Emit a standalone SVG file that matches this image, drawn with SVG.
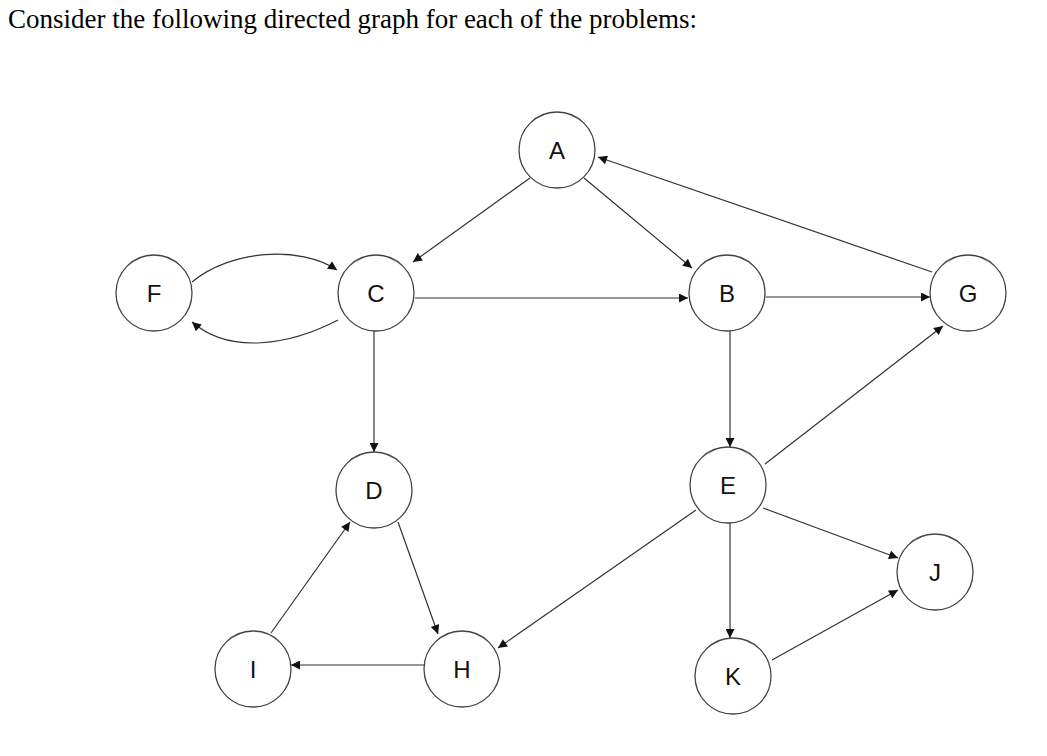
<svg xmlns="http://www.w3.org/2000/svg" width="1047" height="756" viewBox="0 0 1047 756">
<style>
.n circle{fill:#fff;stroke:#444;stroke-width:1.3}
.n text{font-family:"Liberation Sans",Arial,sans-serif;font-size:24px;text-anchor:middle;fill:#111}
#edges path{fill:none;stroke:#333;stroke-width:1.2;marker-end:url(#ah)}
.t{font-family:"Liberation Serif","Times New Roman",serif;font-size:27px;fill:#000}
</style>
<defs><marker id="ah" viewBox="0 0 10 10" refX="10" refY="5" markerWidth="12" markerHeight="9" markerUnits="userSpaceOnUse" orient="auto"><path d="M0,0L10,5L0,10z" fill="#111"/></marker></defs>
<rect width="1047" height="756" fill="#fff"/>
<text class="t" x="8" y="28">Consider the following directed graph for each of the problems:</text>
<g id="edges">
<path d="M530,178L413,262"/>
<path d="M584,178L692,268"/>
<path d="M932,272L598,157"/>
<path d="M415,298L688,298"/>
<path d="M766,297L930,297"/>
<path d="M192,282C230,250 300,245 337,270"/>
<path d="M338,320C290,345 230,355 192,322"/>
<path d="M374,331L374,452"/>
<path d="M730,331L730,447"/>
<path d="M765,464L943,326"/>
<path d="M763,508L898,558"/>
<path d="M696,510L498,648"/>
<path d="M730,523L730,638"/>
<path d="M772,660L898,590"/>
<path d="M398,522L438,634"/>
<path d="M271,633L350,522"/>
<path d="M424,665L291,665"/>
</g>
<g id="A" class="n"><circle cx="557" cy="150" r="38"/><text x="557" y="159">A</text></g>
<g id="F" class="n"><circle cx="154" cy="293" r="38"/><text x="154" y="302">F</text></g>
<g id="C" class="n"><circle cx="376" cy="293" r="38"/><text x="376" y="302">C</text></g>
<g id="B" class="n"><circle cx="727" cy="293" r="38"/><text x="727" y="302">B</text></g>
<g id="G" class="n"><circle cx="968" cy="293" r="38"/><text x="968" y="302">G</text></g>
<g id="D" class="n"><circle cx="374" cy="490" r="38"/><text x="374" y="499">D</text></g>
<g id="E" class="n"><circle cx="728" cy="485" r="38"/><text x="728" y="494">E</text></g>
<g id="J" class="n"><circle cx="935" cy="572" r="38"/><text x="935" y="581">J</text></g>
<g id="I" class="n"><circle cx="253" cy="669" r="38"/><text x="253" y="678">I</text></g>
<g id="H" class="n"><circle cx="462" cy="669" r="38"/><text x="462" y="678">H</text></g>
<g id="K" class="n"><circle cx="733" cy="676" r="38"/><text x="733" y="685">K</text></g>
</svg>
